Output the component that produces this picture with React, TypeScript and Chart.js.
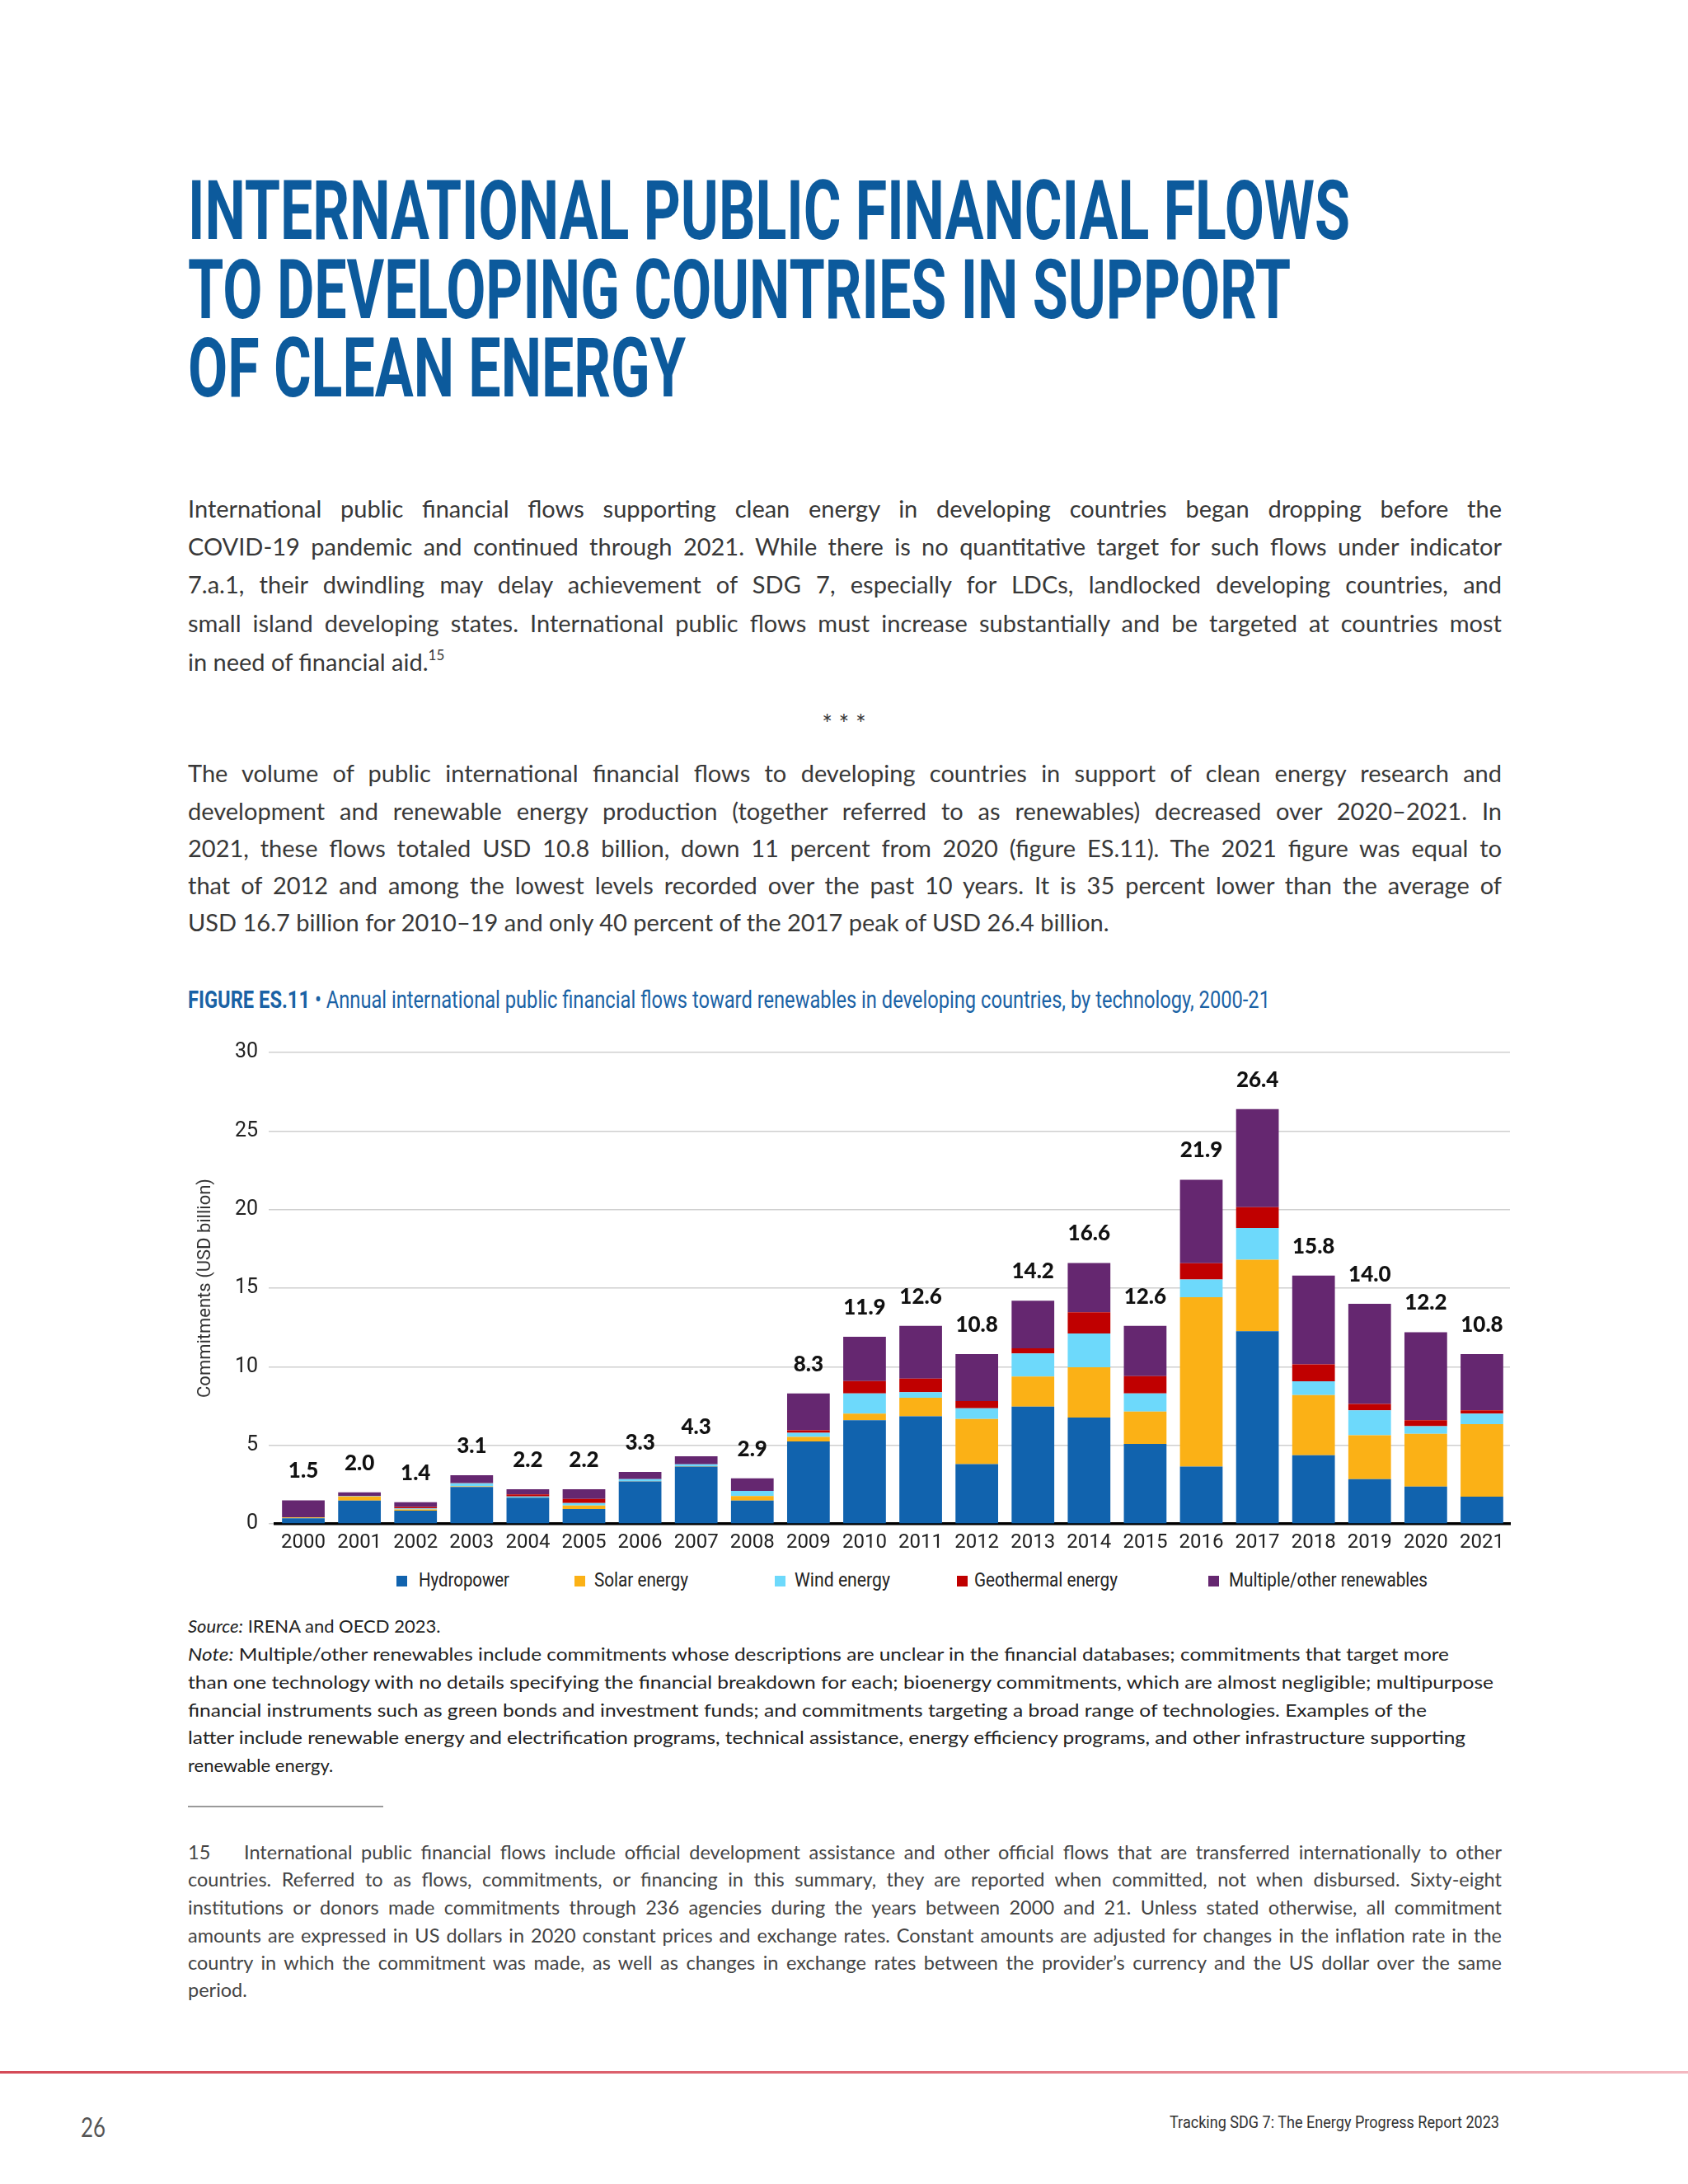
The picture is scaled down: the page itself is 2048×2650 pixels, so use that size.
import React, { useEffect, useLayoutEffect, useRef } from "react";
import { Chart, registerables, Plugin } from "chart.js";

Chart.register(...registerables);

// values (USD billion)
const years = [
  "2000", "2001", "2002", "2003", "2004", "2005", "2006", "2007", "2008", "2009", "2010",
  "2011", "2012", "2013", "2014", "2015", "2016", "2017", "2018", "2019", "2020", "2021",
];
const hydropower = [0.35, 1.48, 0.84, 2.35, 1.66, 0.95, 2.7, 3.65, 1.48, 5.24, 6.6, 6.84, 3.8, 7.46, 6.77, 5.09, 3.65, 12.26, 4.36, 2.85, 2.37, 1.73];
const solar = [0.05, 0.27, 0.08, 0.03, 0.02, 0.22, 0.02, 0.02, 0.29, 0.29, 0.42, 1.19, 2.88, 1.92, 3.19, 2.06, 10.77, 4.55, 3.83, 2.79, 3.36, 4.62];
const wind = [0.02, 0.02, 0.06, 0.2, 0.07, 0.16, 0.13, 0.12, 0.33, 0.27, 1.28, 0.35, 0.67, 1.46, 2.16, 1.15, 1.13, 2.02, 0.88, 1.59, 0.49, 0.66];
const geothermal = [0, 0, 0.1, 0.02, 0.13, 0.26, 0, 0, 0, 0.15, 0.79, 0.87, 0.46, 0.33, 1.35, 1.1, 1.04, 1.32, 1.08, 0.4, 0.37, 0.22];
const multiple = [1.08, 0.23, 0.3, 0.5, 0.32, 0.61, 0.45, 0.51, 0.8, 2.35, 2.81, 3.35, 2.99, 3.03, 3.13, 3.2, 5.31, 6.25, 5.65, 6.37, 5.61, 3.57];
const yTicks = [0, 5, 10, 15, 20, 25, 30];

const seriesNames = ["Hydropower", "Solar energy", "Wind energy", "Geothermal energy", "Multiple/other renewables"];
const seriesColors = ["#1163ae", "#fbb116", "#6dd9fb", "#c00000", "#652770"];
const seriesValues = [hydropower, solar, wind, geothermal, multiple];

// half of (ascent - descent) in em, used to place a line by its baseline
const MID: Record<string, number> = { Lato: 0.387, Roboto: 0.342 };

type TxtProps = {
  x: number;
  base: number;
  size: number;
  family?: string;
  weight?: number;
  color?: string;
  lh?: number;
  w?: number;
  mode?: "none" | "scale" | "justify";
  center?: boolean;
  children: React.ReactNode;
};

const Txt: React.FC<TxtProps> = ({
  x, base, size, family = "Lato", weight = 400, color = "#333", lh = 1, w, mode = "none", center, children,
}) => {
  const ref = useRef<HTMLSpanElement | null>(null);
  useLayoutEffect(() => {
    const el = ref.current;
    if (!el || !w || mode === "none") return;
    const fit = () => {
      el.style.wordSpacing = "0px";
      el.style.transform = "none";
      const natural = el.getBoundingClientRect().width;
      if (!natural) return;
      const spaces = (el.textContent || "").split(" ").length - 1;
      if (mode === "justify" && natural < w && spaces > 0) {
        el.style.wordSpacing = `${(w - natural) / spaces}px`;
      } else {
        el.style.transform = `scaleX(${w / natural})`;
      }
    };
    fit();
    document.fonts?.ready.then(fit);
  }, [w, mode]);
  return (
    <span
      ref={ref}
      style={{
        position: "absolute",
        left: x,
        top: base - (lh / 2 + (MID[family] ?? 0.38)) * size,
        fontFamily: family,
        fontSize: size,
        lineHeight: lh,
        fontWeight: weight,
        color,
        whiteSpace: "pre",
        transformOrigin: "0 0",
        transform: center ? "translateX(-50%)" : undefined,
      }}
    >
      {children}
    </span>
  );
};

const totalsPlugin: Plugin<"bar"> = {
  id: "totals",
  afterDatasetsDraw(chart) {
    const { ctx } = chart;
    const yScale = chart.scales.y;
    const top = chart.getDatasetMeta(chart.data.datasets.length - 1);
    ctx.save();
    ctx.font = "900 26px Lato";
    ctx.fillStyle = "#111";
    ctx.textAlign = "center";
    ctx.textBaseline = "alphabetic";
    years.forEach((_, i) => {
      const total = seriesValues.reduce((s, arr) => s + arr[i], 0);
      const x = top.data[i].x;
      const y = yScale.getPixelForValue(total) - 27;
      ctx.fillText(total.toFixed(1), x, y);
    });
    ctx.restore();
  },
};

const FlowsChart: React.FC = () => {
  const canvasRef = useRef<HTMLCanvasElement | null>(null);
  const chartRef = useRef<Chart | null>(null);

  useEffect(() => {
    if (chartRef.current) chartRef.current.destroy();
    const ctx = canvasRef.current?.getContext("2d");
    if (!ctx) return;
    chartRef.current = new Chart(ctx, {
      type: "bar",
      data: {
        labels: years,
        datasets: seriesNames.map((name, k) => ({
          label: name,
          data: seriesValues[k],
          backgroundColor: seriesColors[k],
          borderWidth: 0,
          barPercentage: 0.76,
          categoryPercentage: 1,
        })),
      },
      options: {
        responsive: true,
        maintainAspectRatio: false,
        animation: false,
        layout: { padding: { top: 40, right: 10, bottom: 0, left: 0 } },
        plugins: { legend: { display: false }, tooltip: { enabled: false } },
        scales: {
          x: {
            stacked: true,
            grid: { display: true, drawOnChartArea: false, drawTicks: false, color: "transparent" },
            border: { display: true, color: "#000", width: 3.5 },
            ticks: { font: { family: "Roboto", size: 24 }, color: "#222", padding: 9, maxRotation: 0 },
            afterFit: (scale) => {
              scale.height = 50;
            },
          },
          y: {
            stacked: true,
            min: 0,
            max: 30,
            afterBuildTicks: (scale) => {
              scale.ticks = yTicks.map((v) => ({ value: v }));
            },
            grid: { color: "#cfcfcf", lineWidth: 1.5, drawTicks: true, tickLength: 8 },
            border: { display: false },
            ticks: { font: { family: "Roboto", size: 25 }, color: "#222", padding: 13 },
            title: {
              display: true,
              text: "Commitments (USD billion)",
              font: { family: "Roboto", size: 22 },
              color: "#333",
              padding: { top: 6, bottom: 0 },
            },
            afterFit: (scale) => {
              scale.width = 104;
            },
          },
        },
      },
      plugins: [totalsPlugin],
    });
    return () => {
      if (chartRef.current) chartRef.current.destroy();
      chartRef.current = null;
    };
  }, []);

  return (
    <div style={{ position: "absolute", left: 230, top: 1237, width: 1612, height: 662 }}>
      <canvas ref={canvasRef} />
    </div>
  );
};

// legend slots: marker x, text x, text width
const legendSlots = [
  [481, 508, 110],
  [697, 721, 114],
  [940, 964, 116],
  [1161, 1182, 174],
  [1466, 1491, 241],
];

const BODY = 1594;

const App: React.FC = () => {
  useEffect(() => {
    document.body.style.margin = "0";
  }, []);

  return (
    <div style={{ position: "absolute", left: 0, top: 0, width: 2048, height: 2650, background: "#fff", overflow: "hidden" }}>
      {/* title, one block of three lines */}
      <Txt x={228} base={290} size={100} lh={0.955} family="Roboto" weight={700} color="#0c5a9c" w={1410} mode="scale">
        {"INTERNATIONAL PUBLIC FINANCIAL FLOWS\nTO DEVELOPING COUNTRIES IN SUPPORT\nOF CLEAN ENERGY"}
      </Txt>

      {/* paragraph 1 */}
      <Txt x={228} base={628} size={29} color="#383838" w={BODY} mode="justify">International public financial flows supporting clean energy in developing countries began dropping before the</Txt>
      <Txt x={228} base={674} size={29} color="#383838" w={BODY} mode="justify">COVID-19 pandemic and continued through 2021. While there is no quantitative target for such flows under indicator</Txt>
      <Txt x={228} base={720} size={29} color="#383838" w={BODY} mode="justify">7.a.1, their dwindling may delay achievement of SDG 7, especially for LDCs, landlocked developing countries, and</Txt>
      <Txt x={228} base={767} size={29} color="#383838" w={BODY} mode="justify">small island developing states. International public flows must increase substantially and be targeted at countries most</Txt>
      <Txt x={228} base={814} size={29} color="#383838">
        in need of financial aid.<span style={{ fontSize: 17, position: "relative", top: -13 }}>15</span>
      </Txt>

      <Txt x={1024} base={889} size={30} color="#383838" center>* * *</Txt>

      {/* paragraph 2 */}
      <Txt x={228} base={949} size={29} color="#383838" w={BODY} mode="justify">The volume of public international financial flows to developing countries in support of clean energy research and</Txt>
      <Txt x={228} base={995} size={29} color="#383838" w={BODY} mode="justify">development and renewable energy production (together referred to as renewables) decreased over 2020–2021. In</Txt>
      <Txt x={228} base={1040} size={29} color="#383838" w={BODY} mode="justify">2021, these flows totaled USD 10.8 billion, down 11 percent from 2020 (figure ES.11). The 2021 figure was equal to</Txt>
      <Txt x={228} base={1085} size={29} color="#383838" w={BODY} mode="justify">that of 2012 and among the lowest levels recorded over the past 10 years. It is 35 percent lower than the average of</Txt>
      <Txt x={228} base={1130} size={29} color="#383838">USD 16.7 billion for 2010–19 and only 40 percent of the 2017 peak of USD 26.4 billion.</Txt>

      {/* figure caption */}
      <Txt x={228} base={1223} size={30} family="Roboto" color="#1a62a5" w={1313} mode="scale">
        <span style={{ fontWeight: 700 }}>FIGURE ES.11</span> • Annual international public financial flows toward renewables in developing countries, by technology, 2000-21
      </Txt>

      <FlowsChart />

      {/* legend */}
      {legendSlots.map(([mx, tx, tw], k) => (
        <React.Fragment key={seriesNames[k]}>
          <div style={{ position: "absolute", left: mx, top: 1912, width: 13, height: 13, background: seriesColors[k] }} />
          <Txt x={tx} base={1925} size={24} family="Roboto" color="#222" w={tw} mode="scale">{seriesNames[k]}</Txt>
        </React.Fragment>
      ))}

      {/* source and note */}
      <Txt x={228} base={1982} size={22} color="#222"><i>Source:</i> IRENA and OECD 2023.</Txt>
      <Txt x={228} base={2016} size={22} color="#222" w={1530} mode="scale"><i>Note:</i> Multiple/other renewables include commitments whose descriptions are unclear in the financial databases; commitments that target more</Txt>
      <Txt x={228} base={2050} size={22} color="#222" w={1584} mode="scale">than one technology with no details specifying the financial breakdown for each; bioenergy commitments, which are almost negligible; multipurpose</Txt>
      <Txt x={228} base={2084} size={22} color="#222" w={1503} mode="scale">financial instruments such as green bonds and investment funds; and commitments targeting a broad range of technologies. Examples of the</Txt>
      <Txt x={228} base={2117} size={22} color="#222" w={1550} mode="scale">latter include renewable energy and electrification programs, technical assistance, energy efficiency programs, and other infrastructure supporting</Txt>
      <Txt x={228} base={2151} size={22} color="#222">renewable energy.</Txt>

      <div style={{ position: "absolute", left: 228, top: 2191, width: 237, height: 2, background: "#9a9a9a" }} />

      {/* footnote */}
      <Txt x={228} base={2257} size={23.5} color="#444">15</Txt>
      <Txt x={296} base={2257} size={23.5} color="#444" w={1526} mode="justify">International public financial flows include official development assistance and other official flows that are transferred internationally to other</Txt>
      <Txt x={228} base={2290} size={23.5} color="#444" w={BODY} mode="justify">countries. Referred to as flows, commitments, or financing in this summary, they are reported when committed, not when disbursed. Sixty-eight</Txt>
      <Txt x={228} base={2324} size={23.5} color="#444" w={BODY} mode="justify">institutions or donors made commitments through 236 agencies during the years between 2000 and 21. Unless stated otherwise, all commitment</Txt>
      <Txt x={228} base={2358} size={23.5} color="#444" w={BODY} mode="justify">amounts are expressed in US dollars in 2020 constant prices and exchange rates. Constant amounts are adjusted for changes in the inflation rate in the</Txt>
      <Txt x={228} base={2391} size={23.5} color="#444" w={BODY} mode="justify">country in which the commitment was made, as well as changes in exchange rates between the provider’s currency and the US dollar over the same</Txt>
      <Txt x={228} base={2424} size={23.5} color="#444">period.</Txt>

      {/* page footer */}
      <div
        style={{
          position: "absolute",
          left: 0,
          top: 2513,
          width: 2048,
          height: 3,
          background: "linear-gradient(to right, #d44a57, #e06c78 55%, #f3b9c1)",
        }}
      />
      <Txt x={98} base={2593} size={33} color="#555" w={30} mode="scale">26</Txt>
      <Txt x={1419} base={2583} size={21} family="Roboto" color="#333" w={400} mode="scale">Tracking SDG 7: The Energy Progress Report 2023</Txt>
    </div>
  );
};

export default App;
